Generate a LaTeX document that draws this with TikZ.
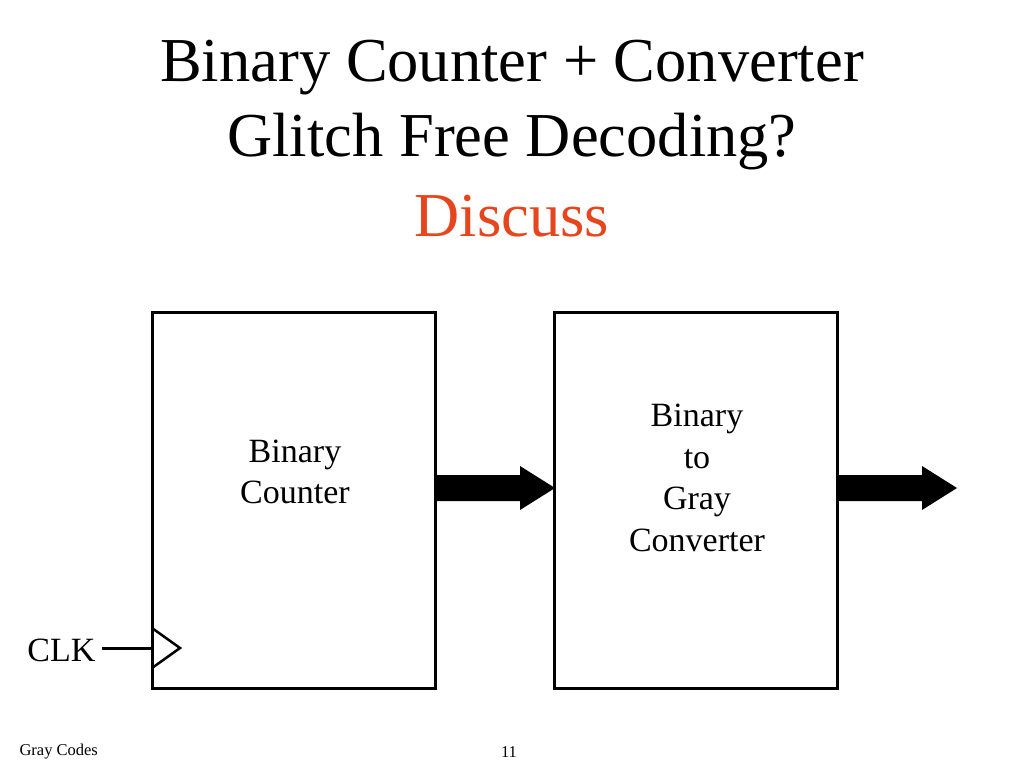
\documentclass[tikz,border=0pt]{standalone}
\usepackage{fontspec}
\setmainfont{Liberation Serif}
\begin{document}
\begin{tikzpicture}[x=1pt,y=-1pt,
  blk/.style={draw,line width=3pt,minimum width=283pt,minimum height=376pt,inner sep=0pt},
  lbl/.style={font=\fontsize{34}{41.5}\selectfont,align=center},
  ttl/.style={font=\fontsize{62.5}{75}\selectfont,align=center}]
\useasboundingbox (0,0) rectangle (1024,768);
\node[ttl] (t1) at (512,68) {Binary Counter + Converter};
\node[ttl] (t2) at (512,142) {Glitch Free Decoding?};
\node[ttl,text={rgb,255:red,230;green,70;blue,30}] (t3) at (512,216) {Discuss};
\node[blk] (b1) at (293.5,500) {};
\node[blk] (b2) at (696,500) {};
\node[lbl] (l1) at (295,472) {Binary\\Counter};
\node[lbl] (l2) at (697,478) {Binary\\to\\Gray\\Converter};
\fill (435,475) -- (520,475) -- (520,466) -- (555,488) -- (520,510) -- (520,501) -- (435,501) -- cycle;
\fill (837,475) -- (922,475) -- (922,466) -- (957,488) -- (922,510) -- (922,501) -- (837,501) -- cycle;
\coordinate (c0) at (102,648);
\coordinate (c1) at (152,648);
\draw[line width=3pt] (c0) -- (c1);
\draw[line width=2.5pt] (152,628) -- (180,648) -- (152,668);
\node[font=\fontsize{34}{38}\selectfont,anchor=east] (clk) at (99,650) {CLK};
\node[font=\fontsize{16.5}{19}\selectfont,anchor=west] (f1) at (16,752) {Gray Codes};
\node[font=\fontsize{16.5}{19}\selectfont] (f2) at (509,752) {11};
\end{tikzpicture}
\end{document}
